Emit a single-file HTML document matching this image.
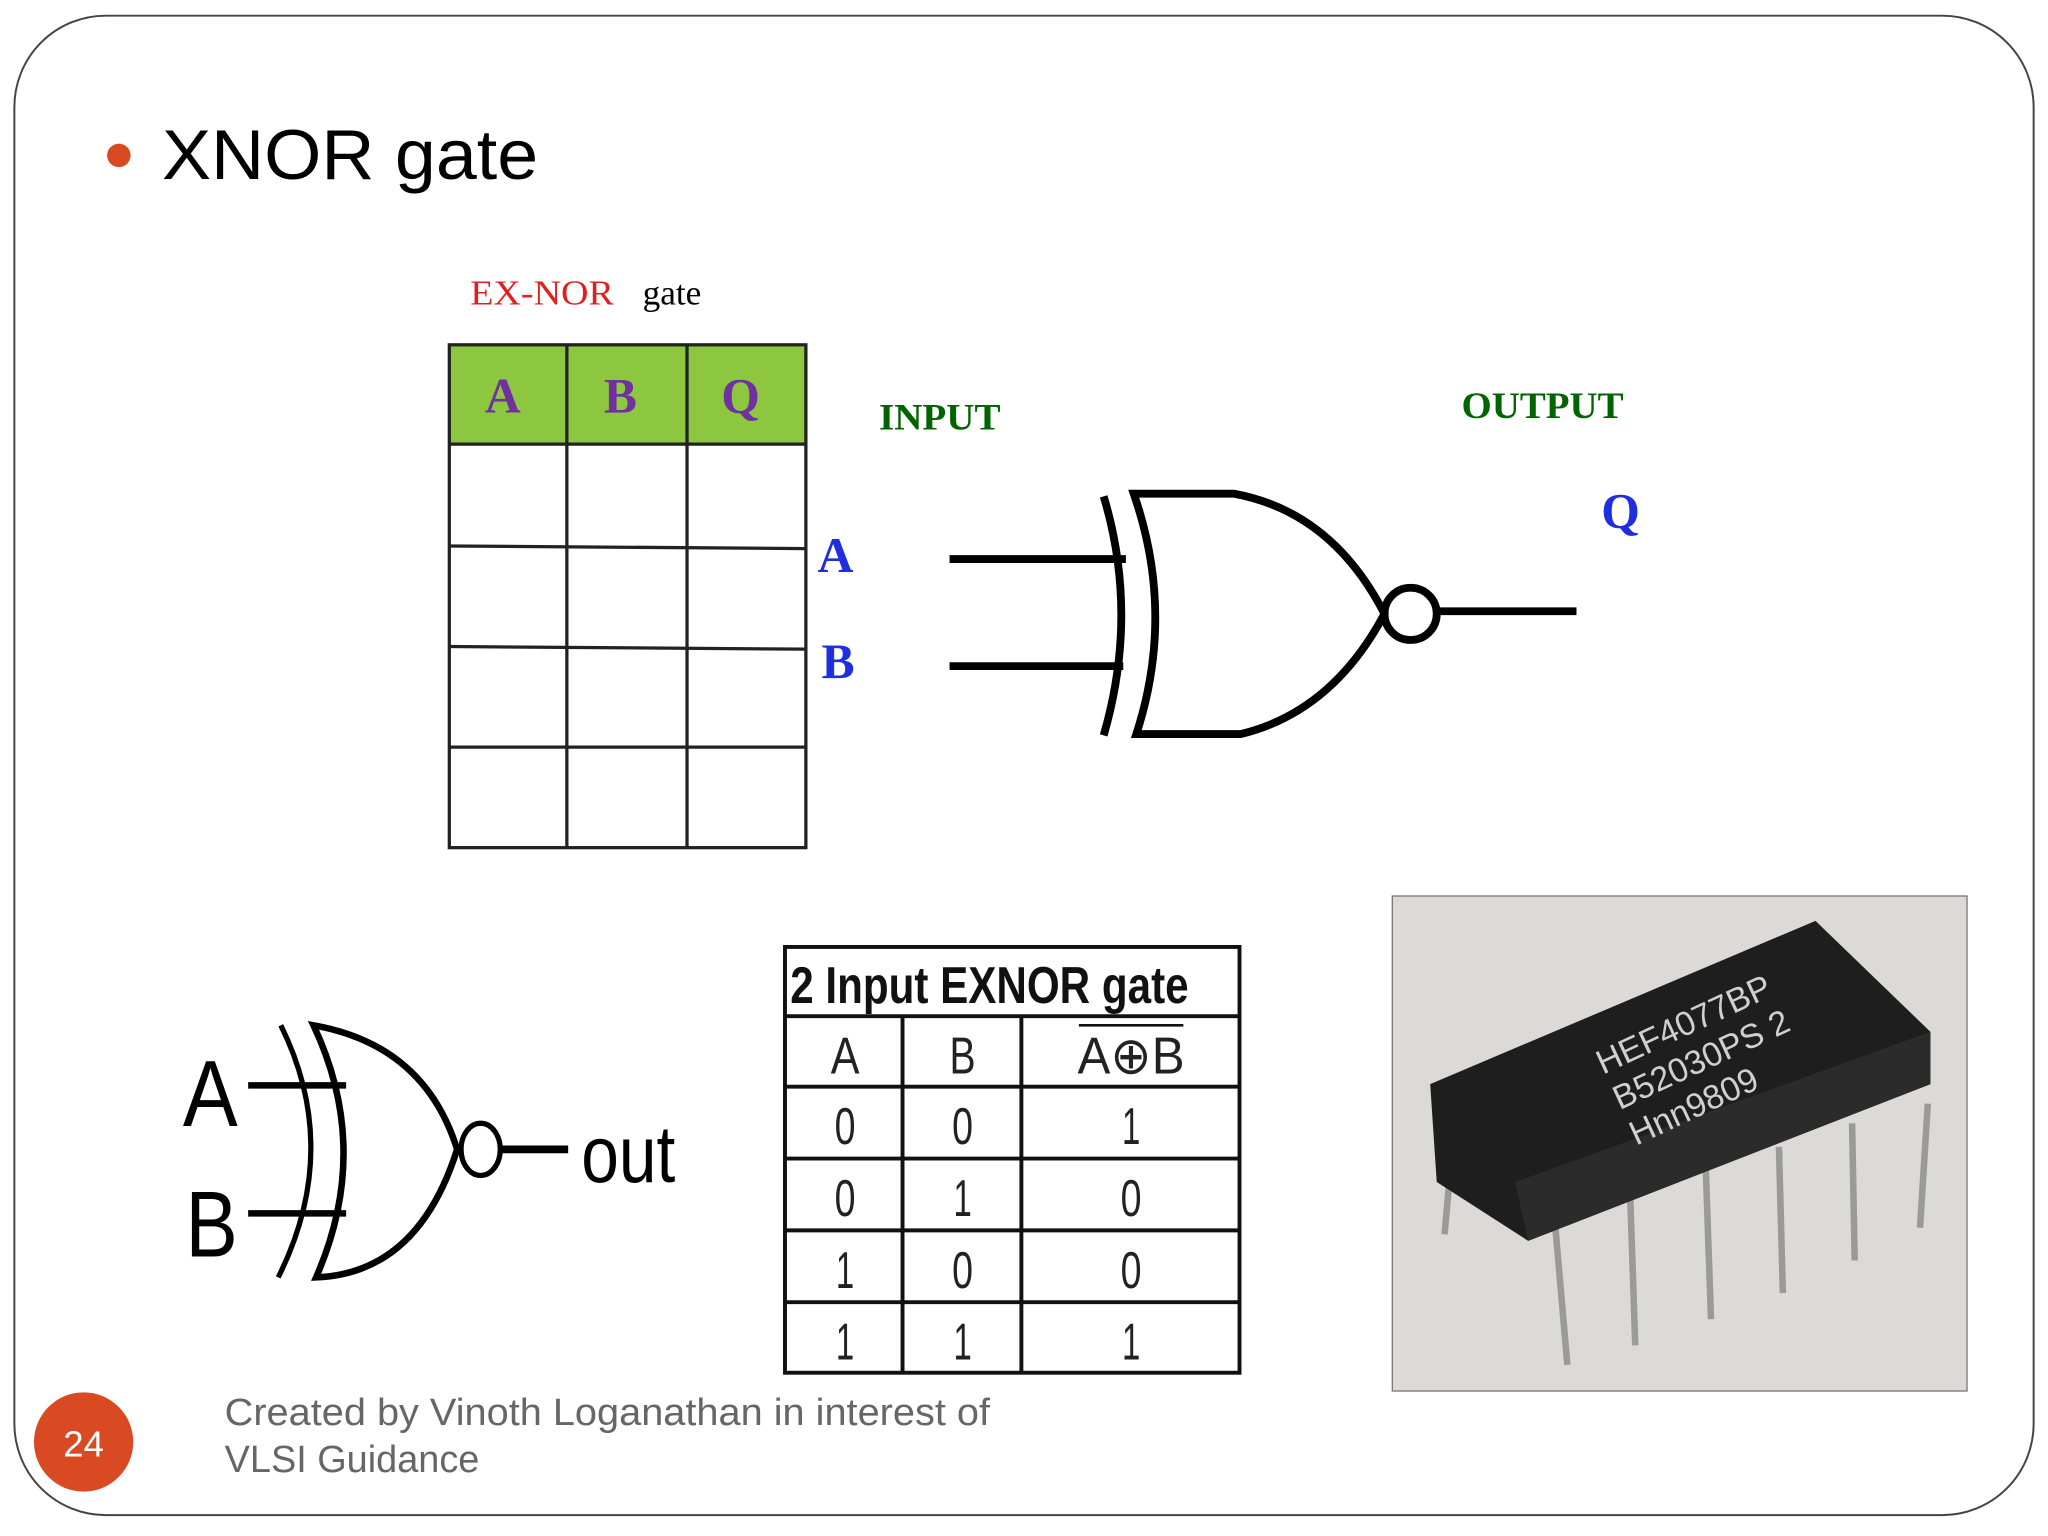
<!DOCTYPE html>
<html><head><style>html,body{margin:0;padding:0;background:#fff;}svg{display:block}</style></head>
<body>
<svg width="2048" height="1536" viewBox="0 0 1568 1176" xmlns="http://www.w3.org/2000/svg">
<rect width="1568" height="1176" fill="#fff"/>
<rect x="11" y="12" width="1546" height="1148" rx="70" fill="#fff" stroke="#444" stroke-width="1.5"/>
<circle cx="91" cy="119" r="9" fill="#d94a22"/>
<text x="124" y="137" font-family="Liberation Sans, sans-serif" font-size="54" fill="#000" textLength="288" lengthAdjust="spacingAndGlyphs">XNOR gate</text>

<text x="360" y="233" font-family="Liberation Serif, serif" font-size="27" fill="#e02020" textLength="110" lengthAdjust="spacingAndGlyphs">EX-NOR</text>
<text x="492" y="233" font-family="Liberation Serif, serif" font-size="27" fill="#000">gate</text>
<rect x="344" y="264" width="273" height="76" fill="#8dc63f"/>
<g stroke="#222" stroke-width="2.5" fill="none">
<rect x="344" y="264" width="273" height="385"/>
<line x1="344" y1="340" x2="617" y2="340"/>
<line x1="344" y1="418" x2="617" y2="420"/>
<line x1="344" y1="495" x2="617" y2="497"/>
<line x1="344" y1="572" x2="617" y2="572"/>
<line x1="434" y1="264" x2="434" y2="649"/>
<line x1="526" y1="264" x2="526" y2="649"/>
</g>
<g font-family="Liberation Serif, serif" font-size="38" font-weight="bold" fill="#7030a0" text-anchor="middle">
<text x="385" y="316">A</text><text x="475" y="316">B</text><text x="567" y="316">Q</text></g>

<text x="673" y="329" font-family="Liberation Serif, serif" font-size="28" font-weight="bold" fill="#006400" textLength="93" lengthAdjust="spacingAndGlyphs">INPUT</text>
<text x="1119" y="320" font-family="Liberation Serif, serif" font-size="28" font-weight="bold" fill="#006400" textLength="124" lengthAdjust="spacingAndGlyphs">OUTPUT</text>
<g font-family="Liberation Serif, serif" font-size="38" font-weight="bold" fill="#1f2fe0">
<text x="626" y="438">A</text><text x="629" y="519">B</text><text x="1226" y="404">Q</text></g>
<g stroke="#000" stroke-width="6" fill="none">
<line x1="727" y1="428" x2="862" y2="428"/>
<line x1="727" y1="510" x2="860" y2="510"/>
<path d="M845,380 Q872,470 845,563"/>
<path d="M868,378 Q900,470 870,562 L950,562 Q1020,545 1060,470 Q1020,392 945,378 Z"/>
<circle cx="1080" cy="470" r="20"/>
<line x1="1100" y1="468" x2="1207" y2="468"/>
</g>

<g font-family="Liberation Sans, sans-serif" font-size="72" fill="#000">
<text x="140" y="862" textLength="42" lengthAdjust="spacingAndGlyphs">A</text>
<text x="142" y="962" textLength="40" lengthAdjust="spacingAndGlyphs">B</text>
<text x="445" y="905" font-size="62" textLength="72" lengthAdjust="spacingAndGlyphs">out</text></g>
<g stroke="#000" stroke-width="5" fill="none">
<line x1="190" y1="831" x2="265" y2="831"/>
<line x1="190" y1="929" x2="265" y2="929"/>
<path d="M215,785 Q262,880 213,978" stroke-width="4"/>
<path d="M240,785 Q285,880 242,978 Q320,975 350,880 Q325,800 240,785 Z" stroke-width="5"/>
<ellipse cx="368" cy="880" rx="15" ry="20" stroke-width="4"/>
<line x1="383" y1="880" x2="435" y2="880" stroke-width="6"/>
</g>

<g stroke="#111" stroke-width="3" fill="none">
<rect x="601" y="725" width="348" height="326"/>
<line x1="601" y1="778" x2="949" y2="778"/>
<line x1="601" y1="832" x2="949" y2="832"/>
<line x1="601" y1="887" x2="949" y2="887"/>
<line x1="601" y1="942" x2="949" y2="942"/>
<line x1="601" y1="997" x2="949" y2="997"/>
<line x1="691" y1="778" x2="691" y2="1051"/>
<line x1="782" y1="778" x2="782" y2="1051"/>
<line x1="826" y1="785" x2="906" y2="785" stroke-width="2"/>
</g>
<text x="605" y="768" font-family="Liberation Sans, sans-serif" font-size="40" font-weight="bold" fill="#111" textLength="305" lengthAdjust="spacingAndGlyphs">2 Input EXNOR gate</text>
<g font-family="Liberation Sans, sans-serif" font-size="40" fill="#222" text-anchor="middle">
<text x="647" y="822" textLength="22" lengthAdjust="spacingAndGlyphs">A</text><text x="737" y="822" textLength="20" lengthAdjust="spacingAndGlyphs">B</text><text x="866" y="822" textLength="82" lengthAdjust="spacingAndGlyphs">A⊕B</text>
<text x="647" y="876" textLength="16" lengthAdjust="spacingAndGlyphs">0</text><text x="737" y="876" textLength="16" lengthAdjust="spacingAndGlyphs">0</text><text x="866" y="876" textLength="14" lengthAdjust="spacingAndGlyphs">1</text>
<text x="647" y="931" textLength="16" lengthAdjust="spacingAndGlyphs">0</text><text x="737" y="931" textLength="14" lengthAdjust="spacingAndGlyphs">1</text><text x="866" y="931" textLength="16" lengthAdjust="spacingAndGlyphs">0</text>
<text x="647" y="986" textLength="14" lengthAdjust="spacingAndGlyphs">1</text><text x="737" y="986" textLength="16" lengthAdjust="spacingAndGlyphs">0</text><text x="866" y="986" textLength="16" lengthAdjust="spacingAndGlyphs">0</text>
<text x="647" y="1041" textLength="14" lengthAdjust="spacingAndGlyphs">1</text><text x="737" y="1041" textLength="14" lengthAdjust="spacingAndGlyphs">1</text><text x="866" y="1041" textLength="14" lengthAdjust="spacingAndGlyphs">1</text></g>

<rect x="1066" y="686" width="440" height="379" fill="#dcdad6" stroke="#777" stroke-width="1"/>
<g stroke="#9a9a9a" stroke-width="5">
<line x1="1110" y1="900" x2="1106" y2="945"/>
<line x1="1190" y1="930" x2="1200" y2="1045"/>
<line x1="1248" y1="912" x2="1252" y2="1030"/>
<line x1="1306" y1="895" x2="1310" y2="1010"/>
<line x1="1362" y1="878" x2="1365" y2="990"/>
<line x1="1418" y1="860" x2="1420" y2="965"/>
<line x1="1476" y1="845" x2="1470" y2="940"/>
</g>
<polygon points="1095,830 1390,705 1478,790 1478,830 1170,950 1100,905" fill="#1e1e1e"/>
<polygon points="1160,905 1478,790 1478,830 1170,950" fill="#2b2b2b"/>
<g transform="translate(1240,850) rotate(-25)" font-family="Liberation Sans, sans-serif" fill="#cfcfcf" font-size="26">
<text x="0" y="-30">HEF4077BP</text><text x="0" y="0">B52030PS  2</text><text x="0" y="30">Hnn9809</text></g>

<circle cx="64" cy="1104" r="38" fill="#d94a22"/>
<text x="64" y="1115" font-family="Liberation Sans, sans-serif" font-size="28" fill="#fff" text-anchor="middle">24</text>
<text x="172" y="1091" font-family="Liberation Sans, sans-serif" font-size="29" fill="#666" textLength="586" lengthAdjust="spacingAndGlyphs">Created by Vinoth Loganathan in interest of</text>
<text x="172" y="1127" font-family="Liberation Sans, sans-serif" font-size="29" fill="#666">VLSI Guidance</text>
</svg>
</body></html>
